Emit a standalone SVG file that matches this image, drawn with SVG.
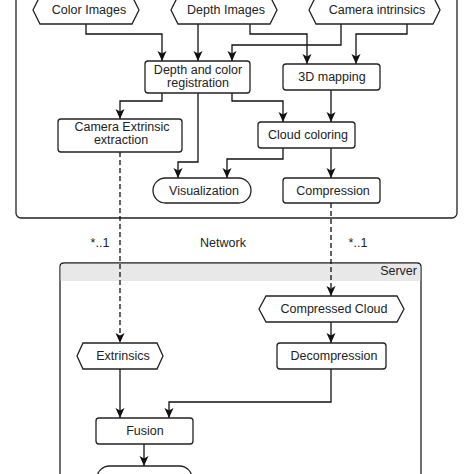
<svg xmlns="http://www.w3.org/2000/svg" width="474" height="474" viewBox="0 0 474 474">
<defs>
<marker id="arr" markerUnits="userSpaceOnUse" markerWidth="10" markerHeight="10" viewBox="0 0 10 10" refX="10" refY="5" orient="auto">
<path d="M0,0.5 L10,5 L0,9.5 L2.5,5 z" fill="#111"/>
</marker>
<style>
.n{fill:#fff;stroke:#222;stroke-width:1.3}
.t{font-family:"Liberation Sans",Arial,sans-serif;font-size:12.5px;fill:#222;text-anchor:middle;dominant-baseline:central}
.c{fill:none;stroke:#111;stroke-width:1.3}
.d{fill:none;stroke:#111;stroke-width:1.3;stroke-dasharray:5,3}
</style>
</defs>
<rect width="474" height="474" fill="#fff"/>
<g id="client">
<rect x="16" y="-10" width="441" height="228" rx="5" fill="none" stroke="#222" stroke-width="1.3"/>
</g>
<g id="server">
<path d="M60,474 L60,267 Q60,263 64,263 L417,263 Q421,263 421,267 L421,474" fill="#fff" stroke="#222" stroke-width="1.3"/>
<path d="M60.7,267 Q60.7,263.7 64,263.7 L417,263.7 Q420.3,263.7 420.3,267 L420.3,281 L60.7,281 z" fill="#e8e8e8"/>
<text class="t" x="417" y="271" style="text-anchor:end">Server</text>
</g>
<g id="labels">
<text class="t" x="100" y="243">*..1</text>
<text class="t" x="223" y="243">Network</text>
<text class="t" x="358" y="243">*..1</text>
</g>
<g id="connectors">
<path class="c" d="M86,24 V34 H162 V61" marker-end="url(#arr)"/>
<path class="c" d="M198,24 V61" marker-end="url(#arr)"/>
<path class="c" d="M250,24 V34 H307 V64" marker-end="url(#arr)"/>
<path class="c" d="M341,24 V45 H232 V61" marker-end="url(#arr)"/>
<path class="c" d="M407,24 V34 H356 V64" marker-end="url(#arr)"/>
<path class="c" d="M162,93 V101 H120 V119" marker-end="url(#arr)"/>
<path class="c" d="M198,93 V162 H178 V178" marker-end="url(#arr)"/>
<path class="c" d="M232,93 V101 H283 V122" marker-end="url(#arr)"/>
<path class="c" d="M331,90 V122" marker-end="url(#arr)"/>
<path class="c" d="M283,148 V159 H227 V178" marker-end="url(#arr)"/>
<path class="c" d="M331,148 V178" marker-end="url(#arr)"/>
<path class="d" d="M120,152 V343" marker-end="url(#arr)"/>
<path class="d" d="M331,203 V296" marker-end="url(#arr)"/>
<path class="c" d="M331,322 V343" marker-end="url(#arr)"/>
<path class="c" d="M120,369 V418" marker-end="url(#arr)"/>
<path class="c" d="M331,369 V402 H169 V418" marker-end="url(#arr)"/>
<path class="c" d="M144,444 V466" marker-end="url(#arr)"/>
</g>
<g id="color-images">
<polygon class="n" points="33,10 40,-4 132,-4 139,10 132,24 40,24"/>
<text class="t" x="89" y="10">Color Images</text>
</g>
<g id="depth-images">
<polygon class="n" points="171,10 178,-4 270,-4 277,10 270,24 178,24"/>
<text class="t" x="226" y="10">Depth Images</text>
</g>
<g id="camera-intrinsics">
<polygon class="n" points="309,10 316,-4 433,-4 440,10 433,24 316,24"/>
<text class="t" x="377" y="10">Camera intrinsics</text>
</g>
<g id="registration">
<rect class="n" x="145" y="61" width="105" height="32" rx="3"/>
<text class="t" x="198" y="70">Depth and color</text>
<text class="t" x="198" y="83">registration</text>
</g>
<g id="mapping">
<rect class="n" x="283" y="64" width="97" height="26" rx="3"/>
<text class="t" x="332" y="77">3D mapping</text>
</g>
<g id="extrinsic-extraction">
<rect class="n" x="58" y="119" width="124" height="33" rx="3"/>
<text class="t" x="122" y="127">Camera Extrinsic</text>
<text class="t" x="121" y="140">extraction</text>
</g>
<g id="cloud-coloring">
<rect class="n" x="258" y="122" width="97" height="26" rx="3"/>
<text class="t" x="308" y="135">Cloud coloring</text>
</g>
<g id="visualization">
<rect class="n" x="153" y="178" width="98" height="25" rx="12.5"/>
<text class="t" x="204" y="190.5">Visualization</text>
</g>
<g id="compression">
<rect class="n" x="283" y="178" width="97" height="25" rx="3"/>
<text class="t" x="333" y="190.5">Compression</text>
</g>
<g id="compressed-cloud">
<polygon class="n" points="259,309 266,296 397,296 404,309 397,322 266,322"/>
<text class="t" x="334" y="309">Compressed Cloud</text>
</g>
<g id="decompression">
<rect class="n" x="277" y="343" width="109" height="26" rx="3"/>
<text class="t" x="334" y="356">Decompression</text>
</g>
<g id="extrinsics">
<polygon class="n" points="77,356 83,343 157,343 163,356 157,369 83,369"/>
<text class="t" x="123" y="356">Extrinsics</text>
</g>
<g id="fusion">
<rect class="n" x="96" y="418" width="97" height="26" rx="3"/>
<text class="t" x="145" y="431">Fusion</text>
</g>
<g id="visualization-server">
<rect class="n" x="97" y="466" width="95" height="25" rx="12.5"/>
<text class="t" x="145" y="480" style="fill:#999">Visualization</text>
</g>
</svg>
